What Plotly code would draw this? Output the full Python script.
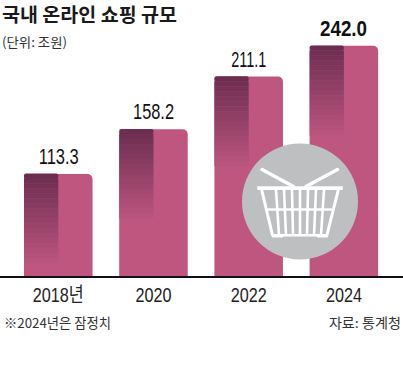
import json
import plotly.graph_objects as go

# --- data ---
categories = ["2018년", "2020", "2022", "2024"]
positions = [0, 1, 2, 3]
values = [113.3, 158.2, 211.1, 242.0]
value_labels = ["113.3", "158.2", "211.1", "242.0"]
title_text = "국내 온라인 쇼핑 규모"
unit_text = "(단위: 조원)"
note_text = "※2024년은 잠정치"
source_text = "자료: 통계청"

# --- style ---
W, H = 403, 382
TOP, BASE = 20, 276
BAR = "#BE5680"
DARK = (108, 46, 80)
LIGHT = (190, 86, 128)
CIRCLE = "#BDBFC1"
SANS = "'Liberation Sans', 'Noto Sans CJK KR', sans-serif"
KR = "'Noto Sans CJK KR', sans-serif"
BANDS = 18
BAND_H = 5.0
BAR_W = 0.72
# rendered widths (px) of the condensed labels of the original
text_widths = {"113.3": 40, "158.2": 41, "211.1": 35, "242.0": 47,
               "2018년": 51, "2020": 36, "2022": 36, "2024": 36,
               unit_text: 65, note_text: 107, source_text: 72, title_text: 175}


def px(x):
    return x / W


def py(y):
    return (BASE - y) / (BASE - TOP)


def lerp(t):
    c = [round(a + (b - a) * t) for a, b in zip(DARK, LIGHT)]
    return f"rgb({c[0]},{c[1]},{c[2]})"


fig = go.Figure()
fig.add_trace(go.Bar(x=positions, y=values, width=BAR_W, marker=dict(color=BAR, cornerradius=5, line_width=0),
                     hoverinfo="skip", showlegend=False))

for k in range(BANDS):
    fig.add_trace(go.Bar(
        x=positions,
        y=[BAND_H + 0.3] * 4,
        base=[v - (k + 1) * BAND_H for v in values],
        width=BAR_W / 2,
        offset=-BAR_W / 2,
        marker=dict(color=lerp(k / BANDS), line_width=0, cornerradius=4 if k == 0 else 0),
        hoverinfo="skip", showlegend=False,
    ))

shapes = []
white = dict(color="white", width=0)


def seg(x0, y0, x1, y1, w):
    shapes.append(dict(type="line", xref="paper", yref="paper", x0=px(x0), y0=py(y0), x1=px(x1), y1=py(y1),
                       line=dict(color="white", width=w)))


def rect(x0, y0, x1, y1):
    shapes.append(dict(type="rect", xref="paper", yref="paper", x0=px(x0), y0=py(y0), x1=px(x1), y1=py(y1),
                       fillcolor="white", line=white))


def circ(cx, cy, r, color):
    shapes.append(dict(type="circle", xref="paper", yref="paper", x0=px(cx - r), y0=py(cy - r), x1=px(cx + r),
                       y1=py(cy + r), fillcolor=color, line=dict(color=color, width=0)))


circ(300, 201.5, 58, CIRCLE)
seg(262, 169.5, 294.3, 187, 3.4)
seg(337.5, 169.5, 305, 187, 3.4)
circ(262, 169.5, 1.7, "white")
circ(337.5, 169.5, 1.7, "white")
rect(257.3, 186.3, 342.7, 190)
seg(261.7, 190, 272.7, 236, 3)
seg(338.3, 190, 326.7, 236, 3)
for tx, bx in zip([276, 284, 292, 300, 308, 316, 324], [279, 286, 293, 300, 307, 314, 321]):
    seg(tx, 190, bx, 235, 2.6)
seg(266, 209.5, 334, 209.5, 2.4)
rect(272, 234, 328, 236.5)
rect(272, 234, 283, 237.5)
rect(317, 234, 328, 237.5)

annotations = []


def label(x, y, text, size, family=KR, anchor="left", color="#222", weight=None):
    annotations.append(dict(xref="paper", yref="paper", x=px(x), y=py(y), text=text, showarrow=False,
                            xanchor=anchor, yanchor="middle", align=anchor,
                            font=dict(size=size, family=family, color=color, weight=weight)))


label(0, 13, title_text, 19.5, weight=700, color="#1a1a1a")
label(0, 41, unit_text, 13, color="#333")
label(2, 322, note_text, 13.5, color="#333")
label(403, 322, source_text, 13.5, anchor="right", color="#333")

for p, v, t in zip(positions, values, value_labels):
    annotations.append(dict(xref="x", yref="y", x=p, y=v, text=t, showarrow=False, yanchor="bottom", yshift=3,
                            font=dict(size=22, family=SANS, color="#111", weight=700 if p == 3 else 400)))

fig.update_layout(
    width=W, height=H, autosize=False,
    margin=dict(l=0, r=0, t=TOP, b=H - BASE),
    barmode="overlay", paper_bgcolor="white", plot_bgcolor="white",
    showlegend=False, shapes=shapes, annotations=annotations,
    xaxis=dict(range=[-0.612, 3.621], tickmode="array", tickvals=positions, ticktext=categories,
               showgrid=False, zeroline=False, showline=True, linecolor="#111", linewidth=1.5, ticks="",
               tickfont=dict(size=20, family=SANS, color="#222"), fixedrange=True),
    yaxis=dict(range=[10.7, 268], visible=False, fixedrange=True),
)

post = """
document.documentElement.style.margin='0';document.body.style.margin='0';
var widths=%s;
function squeeze(){document.querySelectorAll('.annotation-text, .xtick text').forEach(function(t){
  var w=widths[t.textContent]; if(w){t.setAttribute('textLength',w);t.setAttribute('lengthAdjust','spacingAndGlyphs');}
});}
squeeze();
""" % json.dumps(text_widths, ensure_ascii=False)
fig.write_html("out.html", post_script=post, config={"displayModeBar": False})
